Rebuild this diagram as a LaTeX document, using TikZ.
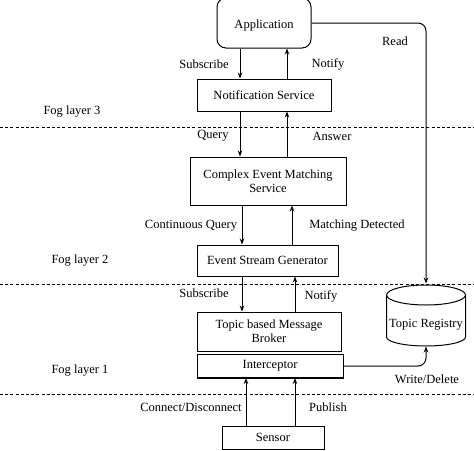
\documentclass[tikz,border=0pt]{standalone}
\usepackage{fontspec}
\setmainfont{Liberation Serif}
\usetikzlibrary{arrows.meta}
\begin{document}
\begin{tikzpicture}[x=1pt,y=-1pt, line width=1pt,
  every node/.style={font=\fontsize{12.5}{14}\selectfont},
  box/.style={draw, inner sep=0pt, align=center},
  arr/.style={-{Stealth[length=6pt,width=4.5pt]}},
  lbl/.style={inner sep=0pt},
  fog/.style={dash pattern=on 3pt off 2.2pt, line width=0.6pt}]
\useasboundingbox (0,0) rectangle (474,450);
% boxes
\node[box, rounded corners=9pt, minimum width=94pt, minimum height=50pt, text depth=0pt, yshift=0pt] (app) at (264,23) {\raisebox{-2pt}{Application}};
\node[box, minimum width=134pt, minimum height=32pt] (notif) at (264,95) {Notification Service};
\node[box, minimum width=156pt, minimum height=48pt] (cems) at (268,181) {Complex Event Matching\\Service};
\node[box, minimum width=141pt, minimum height=31pt] (esg) at (267.5,260.5) {Event Stream Generator};
\node[box, minimum width=144pt, minimum height=39pt] (tbmb) at (269,331.5) {Topic based Message\\Broker};
\node[box, minimum width=146pt, minimum height=23pt] (inter) at (270,366) {Interceptor};
\node[box, minimum width=102pt, minimum height=23pt] (sensor) at (273,437.5) {Sensor};
\draw[line width=1.5pt] (inter.south west) -- (inter.south east);
\draw[line width=1.5pt] (sensor.south west) -- (sensor.south east);
% topic registry cylinder
\node[inner sep=0pt, minimum width=79pt, minimum height=62pt] (reg) at (426,315) {};
\node[lbl] (regtxt) at (426,325) {Topic Registry};
\draw (426,295) ellipse [x radius=39.5pt, y radius=10pt];
\draw (386.5,295) -- (386.5,337) arc [start angle=180, end angle=360, x radius=39.5pt, y radius=9pt] -- (465.5,295);
% fog layer separators
\draw[fog] (0,127) -- (474,127);
\draw[fog] (0,284) -- (474,284);
\draw[fog] (0,394) -- (474,394);
% columns
\coordinate (c1) at (240,0);
\coordinate (c2) at (287,0);
\coordinate (c3) at (242,0);
\coordinate (c4) at (292,0);
\coordinate (c5) at (295,0);
\coordinate (c6) at (246,0);
% connectors
\draw[arr] (app.south -| c1) -- (notif.north -| c1);
\draw[arr] (notif.north -| c2) -- (app.south -| c2);
\draw[arr] (notif.south -| c1) -- (cems.north -| c1);
\draw[arr] (cems.north -| c2) -- (notif.south -| c2);
\draw[arr] (cems.south -| c3) -- (esg.north -| c3);
\draw[arr] (esg.north -| c4) -- (cems.south -| c4);
\draw[arr] (esg.south -| c3) -- (tbmb.north -| c3);
\draw[arr] (tbmb.north -| c5) -- (esg.south -| c5);
\draw[arr] (sensor.north -| c6) -- (inter.south -| c6);
\draw[arr] (sensor.north -| c5) -- (inter.south -| c5);
\draw[arr, rounded corners=8pt] (app.east) -| (reg.north);
\draw[arr, rounded corners=8pt] (inter.east) -| (reg.south);
% labels
\node[lbl] (l1) at (204,64) {Subscribe};
\node[lbl] (l2) at (328,64) {Notify};
\node[lbl] (l3) at (395,41) {Read};
\node[lbl] (f3) at (72,112) {Fog layer 3};
\node[lbl] (l4) at (213,136) {Query};
\node[lbl] (l5) at (332,136) {Answer};
\node[lbl] (l6) at (191,226) {Continuous Query};
\node[lbl] (l7) at (357,226) {Matching Detected};
\node[lbl] (f2) at (80,261) {Fog layer 2};
\node[lbl] (l8) at (204,293) {Subscribe};
\node[lbl] (l9) at (321,296) {Notify};
\node[lbl] (f1) at (80,371) {Fog layer 1};
\node[lbl] (l10) at (191,407) {Connect/Disconnect};
\node[lbl] (l11) at (328,407) {Publish};
\node[lbl] (l12) at (427,379) {Write/Delete};
\end{tikzpicture}
\end{document}
